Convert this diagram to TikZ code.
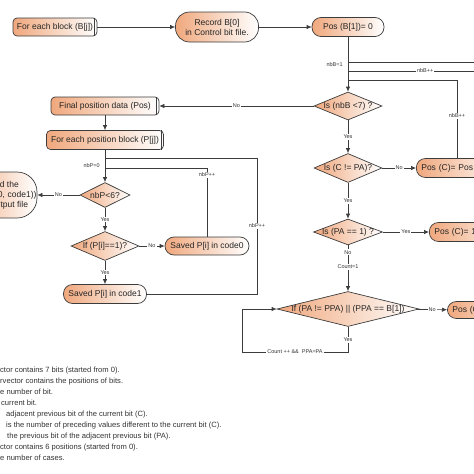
\documentclass[tikz,border=0pt]{standalone}
\usepackage{fontspec}
\setmainfont{Liberation Sans}
\usetikzlibrary{shapes.geometric,arrows.meta}

\definecolor{boxorange}{RGB}{240,168,125}
\definecolor{linegray}{RGB}{60,60,60}

\tikzset{
  base/.style={draw=linegray, line width=0.7pt, left color=boxorange, right color=white, text=black!85, font=\fontsize{8.5}{10}\selectfont, inner sep=0pt},
  scroll/.style={base, rectangle, rounded corners=4pt, minimum height=18pt},
  term/.style={base, rectangle, rounded corners=9pt, minimum height=19pt},
  decision/.style={base, diamond},
  lbl/.style={font=\fontsize{5.5}{6}\selectfont, fill=white, inner sep=1pt, text=black!80},
  conn/.style={draw=linegray, line width=0.7pt},
}

\begin{document}
\begin{tikzpicture}[x=1pt, y=-1pt, >={Latex[length=5pt,width=4.5pt]}]
\useasboundingbox (0,0) rectangle (474,474);
\clip (0,0) rectangle (474,474);

% top row
\node[scroll, minimum width=84pt] (forB) at (55,27) {For each block (B[j])};
\draw[linegray, line width=0.7pt] ([xshift=-3pt]forB.north east) -- ([xshift=-3pt]forB.south east);
\node[term, minimum width=83pt, minimum height=30pt, rounded corners=14pt, align=center] (rec) at (217,27) {Record B[0]\\in Control bit file.};
\node[term, minimum width=72pt] (posB) at (348,27) {Pos (B[1])= 0};

% right column
\node[decision, minimum width=68pt, minimum height=28pt] (isnbB) at (348,106) {\makebox[0pt]{Is (nbB <7) ?}};
\node[decision, minimum width=68pt, minimum height=29pt] (isCPA) at (348,168) {\makebox[0pt]{Is (C != PA)?}};
\node[decision, minimum width=69pt, minimum height=26pt] (isPA1) at (348,232) {\makebox[0pt]{Is (PA == 1) ?}};
\node[decision, minimum width=142pt, minimum height=35pt] (ifPPA) at (348,309) {\makebox[0pt]{If (PA != PPA) || (PPA == B[1])}};
\node[term, anchor=west, text width=80pt, align=left, inner xsep=5pt] (posCP) at (416,168) {Pos (C)= Pos};
\node[term, anchor=west, text width=80pt, align=left, inner xsep=5pt] (posC1) at (429,232) {Pos (C)= 1};
\node[term, anchor=west, text width=80pt, align=left, inner xsep=5pt, minimum height=17pt] (posE) at (447,310) {Pos (C)= Pos};

% left column
\node[scroll, minimum width=108pt] (fin) at (105,106) {Final position data (Pos)};
\draw[linegray, line width=0.7pt] ([xshift=-3pt]fin.north east) -- ([xshift=-3pt]fin.south east);
\node[scroll, minimum width=117pt, minimum height=19pt] (forP) at (105,140) {For each position block (P[j])};
\draw[linegray, line width=0.7pt] ([xshift=-3pt]forP.north east) -- ([xshift=-3pt]forP.south east);
\node[decision, minimum width=50pt, minimum height=25pt] (isnbP) at (105,195) {\makebox[0pt]{nbP<6?}};
\node[decision, minimum width=68pt, minimum height=29pt] (ifP) at (105,246) {\makebox[0pt]{If (P[i]==1)?}};
\node[term, minimum width=84pt, minimum height=18pt] (sav0) at (207,246) {Saved P[i] in code0};
\node[term, minimum width=83pt] (sav1) at (105,294) {Saved P[i] in code1};
\node[term, minimum width=78pt, minimum height=46pt, rounded corners=20pt, align=center] (outf) at (-2,195) {Record the\\Pos (code0,\,\,code1))\\in the output file};

% legend
\node[anchor=north west, align=left, inner sep=0pt, text=black!80, font=\fontsize{7.6}{11}\selectfont] (legend) at (0,367) {ctor contains 7 bits (started from 0).\\
rvector contains the positions of bits.\\
e number of bit.\\
\hspace*{1pt}current bit.\\
\hspace*{6pt}adjacent previous bit of the current bit (C).\\
\hspace*{6pt}is the number of preceding values different to the current bit (C).\\
\hspace*{7pt}the previous bit of the adjacent previous bit (PA).\\
ctor contains 6 positions (started from 0).\\
e number of cases.};

% junctions
\coordinate (j1) at (348,62);
\coordinate (j2) at (348,71);
\coordinate (j3) at (348,80);
\coordinate (e1) at (480,62);
\coordinate (e2) at (480,71);
\coordinate (k1) at (105,158);
\coordinate (k2) at (105,168);
\coordinate (lp1) at (348,352);
\coordinate (lp2) at (242,352);

% connectors
\draw[conn,->] (forB) -- (rec);
\draw[conn,->] (rec) -- (posB);
\draw[conn,->] (posB) -- node[lbl, left, xshift=-4pt]{nbB=1} (isnbB);
\draw[conn] (e1) -- (j1);
\draw[conn] (e2) -- node[lbl, pos=0.415]{nbB++} (j2);
\draw[conn] ([xshift=41pt]posCP.north west) |- node[lbl, pos=0.27]{nbB++} (j3);

\draw[conn,->] (isnbB) -- node[lbl]{No} (fin);
\draw[conn,->] (fin) -- (forP);
\draw[conn,->] (forP) -- node[lbl, left, xshift=-4pt]{nbP=0} (isnbP);
\draw[conn] (sav1.east) -- (257,294) |- node[lbl, pos=0.25]{nbP++} (k1);
\draw[conn] (sav0.north) |- node[lbl, pos=0.45]{nbP++} (k2);
\draw[conn,->] (isnbP) -- node[lbl]{No} (outf);
\draw[conn,->] (isnbP) -- node[lbl]{Yes} (ifP);
\draw[conn,->] (ifP) -- node[lbl]{No} (sav0);
\draw[conn,->] (ifP) -- node[lbl]{Yes} (sav1);

\draw[conn,->] (isnbB) -- node[lbl]{Yes} (isCPA);
\draw[conn,->] (isCPA) -- node[lbl]{No} (posCP);
\draw[conn,->] (isCPA) -- node[lbl]{Yes} (isPA1);
\draw[conn,->] (isPA1) -- node[lbl]{Yes} (posC1);
\draw[conn,->] (isPA1) -- node[lbl, pos=0.15]{No} node[lbl, pos=0.47]{Count=1} (ifPPA);
\draw[conn,->] (ifPPA) -- node[lbl]{No} (posE);
\draw[conn,->] (ifPPA.south) -- node[lbl, pos=0.52]{Yes} (lp1) -- node[lbl]{Count ++ \&\&\ \ PPA=PA} (lp2) |- (ifPPA.west);

\end{tikzpicture}
\end{document}
